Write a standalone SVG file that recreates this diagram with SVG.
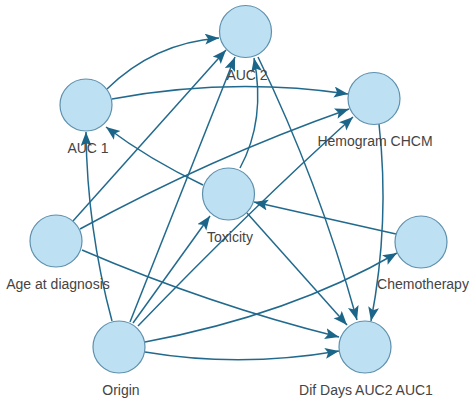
<svg xmlns="http://www.w3.org/2000/svg" width="474" height="402" viewBox="0 0 474 402">
<defs>
<marker id="ah" markerUnits="userSpaceOnUse" markerWidth="15" markerHeight="12" refX="14" refY="5.5" orient="auto">
<path d="M0,0 L14,5.5 L0,11 L3,5.5 z" fill="#1b6589"/>
</marker>
<style>
.e{fill:none;stroke:#226a8d;stroke-width:1.5;marker-end:url(#ah)}
.n{fill:#bee0f3;stroke:#5e90ad;stroke-width:1.2}
.t{font-family:"Liberation Sans",Arial,sans-serif;font-size:14px;fill:#444;text-anchor:middle}
</style>
</defs>
<rect width="474" height="402" fill="#fff"/>
<g id="edges">
<path class="e" d="M107,89 Q154,43 219,38"/>
<path class="e" d="M112,99 Q230,77 348,94"/>
<path class="e" d="M73,221 L226,50"/>
<path class="e" d="M80,229 Q210,158 349,109"/>
<path class="e" d="M112,321 Q87,228 86,132"/>
<path class="e" d="M203,185 Q150,160 106,127"/>
<path class="e" d="M130,322 L235,57"/>
<path class="e" d="M240,168 Q266,120 254,58"/>
<path class="e" d="M258,57 Q318,180 357,320"/>
<path class="e" d="M379,124 Q390,222 371,321"/>
<path class="e" d="M138,326 Q250,210 353,117"/>
<path class="e" d="M133,323 L210,216"/>
<path class="e" d="M396,234 L254,202"/>
<path class="e" d="M247,213 L347,325"/>
<path class="e" d="M82,250 Q210,305 339,337"/>
<path class="e" d="M145,342 Q290,315 397,253"/>
<path class="e" d="M145,352 Q240,368 339,351"/>
</g>
<g id="n-auc2"><circle class="n" cx="245.5" cy="31.5" r="26"/><text class="t" x="247" y="80">AUC 2</text></g>
<g id="n-auc1"><circle class="n" cx="86" cy="105" r="26"/><text class="t" x="88" y="153">AUC 1</text></g>
<g id="n-hemogram"><circle class="n" cx="374" cy="98.5" r="26"/><text class="t" x="375" y="146">Hemogram CHCM</text></g>
<g id="n-toxicity"><circle class="n" cx="228.5" cy="194" r="26"/><text class="t" x="230" y="242">Toxicity</text></g>
<g id="n-age"><circle class="n" cx="56" cy="241" r="26"/><text class="t" x="58" y="289">Age at diagnosis</text></g>
<g id="n-chemo"><circle class="n" cx="421" cy="242" r="26"/><text class="t" x="423" y="289">Chemotherapy</text></g>
<g id="n-origin"><circle class="n" cx="119" cy="347" r="26"/><text class="t" x="121" y="395">Origin</text></g>
<g id="n-difdays"><circle class="n" cx="365" cy="347" r="26"/><text class="t" x="366" y="395">Dif Days AUC2 AUC1</text></g>
</svg>
